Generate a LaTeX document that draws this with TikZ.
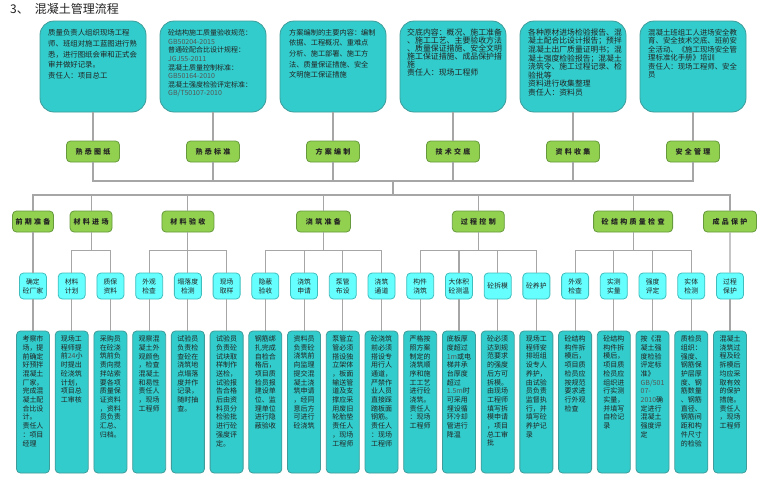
\documentclass[tikz,border=0pt]{standalone}
\usepackage{fontspec}
\setmainfont{Noto Sans CJK SC}
\usetikzlibrary{calc}
\definecolor{tealfill}{HTML}{33CCCC}
\definecolor{tealline}{HTML}{3E9C9A}
\definecolor{cyanfill}{HTML}{66FFFF}
\definecolor{cyanline}{HTML}{40BDBD}
\definecolor{grnfill}{HTML}{92D050}
\definecolor{grnline}{HTML}{669A3C}
\definecolor{conncol}{HTML}{A6A6A6}
\definecolor{txtcol}{HTML}{222222}
\definecolor{latcol}{HTML}{555555}
\newcommand\latx[1]{{\color{latcol}#1}}
\newcommand\gsp{\hspace{2.3pt}}
\newcommand\mkcol[4]{%
  \pgfmathsetmacro\colx{33+38.7222*#1}%
  \node[sbox] (s#2) at (\colx,286) {#3};
  \node[bbox] (b#2) at (\colx,402) {};
  \node[btext] (t#2) at (\colx,335.5) {#4};
  \draw[conn] (s#2) -- (b#2);
}
\begin{document}
\begin{tikzpicture}[x=1pt,y=-1pt,
  conn/.style={draw=conncol, line width=1.1pt},
  callout/.style={draw=tealline, fill=tealfill, rounded corners=14pt, line width=0.8pt,
    minimum width=106pt, minimum height=91pt, inner sep=0pt},
  ctext/.style={anchor=north west, align=left, inner sep=0pt, text=txtcol},
  gbox/.style={draw=grnline, fill=grnfill, rounded corners=4pt, line width=0.8pt,
    minimum height=21pt, inner sep=0pt, text=txtcol, font=\fontsize{7}{8}\selectfont\bfseries},
  sbox/.style={draw=cyanline, fill=cyanfill, rounded corners=4pt, line width=0.8pt,
    minimum width=27pt, minimum height=26pt, inner sep=0pt, align=center, text=txtcol,
    font=\fontsize{6.8}{9}\selectfont},
  bbox/.style={draw=tealline, fill=tealfill, rounded corners=4pt, line width=0.8pt,
    minimum width=33pt, minimum height=142pt, inner sep=0pt},
  btext/.style={anchor=north, align=left, inner sep=0pt, text=txtcol,
    font=\fontsize{7}{8.7}\selectfont}
]
\fill[white] (0,0) rectangle (760,477);
\useasboundingbox (0,0) rectangle (760,477);

\node[anchor=west, inner sep=0pt, text=txtcol, font=\fontsize{12}{14}\selectfont] (title) at (10,9) {3、\hspace{6pt}混凝土管理流程};

% top callouts
\node[callout] (c1) at (93,66.5) {};
\node[callout] (c2) at (213,66.5) {};
\node[callout] (c3) at (333,66.5) {};
\node[callout] (c4) at (453,66.5) {};
\node[callout] (c5) at (573,66.5) {};
\node[callout] (c6) at (693,66.5) {};

\node[ctext, font=\fontsize{7.4}{10.8}\selectfont] (ct1) at (48,29) {质量负责人组织现场工程\\师、班组对施工蓝图进行熟\\悉，进行图纸会审和正式会\\审并做好记录。\\责任人：项目总工};
\node[ctext, font=\fontsize{7}{8.6}\selectfont] (ct2) at (168,29.5) {砼结构施工质量验收规范：\\\latx{GB50204-2015}\\普通砼配合比设计规程：\\\latx{JGJ55-2011}\\混凝土质量控制标准：\\\latx{GB50164-2010}\\混凝土强度检验评定标准：\\\latx{GB/T50107-2010}};
\node[ctext, font=\fontsize{7.2}{10.6}\selectfont] (ct3) at (289,29) {方案编制的主要内容：编制\\依据、工程概况、重难点\\分析、施工部署、施工方\\法、质量保证措施、安全\\文明施工保证措施};
\node[ctext, font=\fontsize{7.9}{8}\selectfont] (ct4) at (407,28.5) {交底内容：概况、施工准备\\、施工工艺、主要验收方法\\、质量保证措施、安全文明\\施工保证措施、成品保护措\\施\\责任人：现场工程师};
\node[ctext, font=\fontsize{7.8}{8.6}\selectfont] (ct5) at (528,28.5) {各种原材进场检验报告、混\\凝土配合比设计报告；预拌\\混凝土出厂质量证明书；混\\凝土强度检验报告；混凝土\\浇筑令、施工过程记录、检\\验批等\\资料进行收集整理\\责任人：资料员};
\node[ctext, font=\fontsize{7.4}{8.5}\selectfont] (ct6) at (648,28.5) {混凝土班组工人进场安全教\\育、安全技术交底、班前安\\全活动、《施工现场安全管\\理标准化手册》培训\\责任人：现场工程师、安全\\员};

% first green row
\node[gbox, minimum width=53pt] (g1) at (93,151.5) {熟\gsp 悉\gsp 图\gsp 纸};
\node[gbox, minimum width=53pt] (g2) at (213,151.5) {熟\gsp 悉\gsp 标\gsp 准};
\node[gbox, minimum width=53pt] (g3) at (333,151.5) {方\gsp 案\gsp 编\gsp 制};
\node[gbox, minimum width=53pt] (g4) at (453,151.5) {技\gsp 术\gsp 交\gsp 底};
\node[gbox, minimum width=53pt] (g5) at (573,151.5) {资\gsp 料\gsp 收\gsp 集};
\node[gbox, minimum width=53pt] (g6) at (693,151.5) {安\gsp 全\gsp 管\gsp 理};

\foreach \k in {1,...,6} {\draw[conn] (c\k) -- (g\k);}

\coordinate (busA) at (393,181);
\coordinate (busB) at (393,195);
\foreach \k in {1,...,6} {\draw[conn] (g\k.south) |- (busA);}
\draw[conn] (busA) -- (busB);

% second green row
\node[gbox, minimum width=41pt] (r1) at (33,221.5) {前\gsp 期\gsp 准\gsp 备};
\node[gbox, minimum width=42pt] (r2) at (91.06,221.5) {材\gsp 料\gsp 进\gsp 场};
\node[gbox, minimum width=52pt] (r3) at (187.9,221.5) {材\gsp 料\gsp 验\gsp 收};
\node[gbox, minimum width=54pt] (r4) at (323.4,221.5) {浇\gsp 筑\gsp 准\gsp 备};
\node[gbox, minimum width=52pt] (r5) at (478.3,221.5) {过\gsp 程\gsp 控\gsp 制};
\node[gbox, minimum width=79pt] (r6) at (633.1,221.5) {砼\gsp 结\gsp 构\gsp 质\gsp 量\gsp 检\gsp 查};
\node[gbox, minimum width=53pt] (r7) at (730,221.5) {成\gsp 品\gsp 保\gsp 护};

\foreach \k in {1,...,7} {\draw[conn] (busB) -| (r\k.north);}

% columns
\mkcol{0}{1}{确定\\砼厂家}{考察市\\场，提\\前确定\\好预拌\\混凝土\\厂家，\\完成混\\凝土配\\合比设\\计。\\责任人\\：项目\\经理}
\mkcol{1}{2}{材料\\计划}{现场工\\程师提\\前\latx{24}小\\时提出\\砼浇筑\\计划，\\项目总\\工审核}
\mkcol{2}{3}{质保\\资料}{采购员\\在砼浇\\筑前负\\责向搅\\拌站索\\要各项\\质量保\\证资料\\，资料\\员负责\\汇总、\\归档。}
\mkcol{3}{4}{外观\\检查}{观察混\\凝土外\\观颜色\\，检查\\混凝土\\和易性\\责任人\\，现场\\工程师}
\mkcol{4}{5}{塌落度\\检测}{试验员\\负责检\\查砼在\\浇筑地\\点塌落\\度并作\\记录，\\随时抽\\查。}
\mkcol{5}{6}{现场\\取样}{试验员\\负责砼\\试块取\\样制作\\送检，\\试验报\\告合格\\后由资\\料员分\\检验批\\进行砼\\强度评\\定。}
\mkcol{6}{7}{隐蔽\\验收}{钢筋绑\\扎完成\\自检合\\格后，\\项目质\\检员报\\建设单\\位、监\\理单位\\进行隐\\蔽验收}
\mkcol{7}{8}{浇筑\\申请}{资料员\\负责砼\\浇筑前\\向监理\\提交混\\凝土浇\\筑申请\\，经同\\意后方\\可进行\\砼浇筑}
\mkcol{8}{9}{泵管\\布设}{泵管立\\管必须\\搭设独\\立架体\\，板面\\输送管\\道及支\\撑应采\\用废旧\\轮胎垫\\责任人\\，现场\\工程师}
\mkcol{9}{10}{浇筑\\通道}{砼浇筑\\前必须\\搭设专\\用行人\\通道，\\严禁作\\业人员\\直接踩\\踏板面\\钢筋。\\责任人\\：现场\\工程师}
\mkcol{10}{11}{构件\\浇筑}{严格按\\照方案\\制定的\\浇筑顺\\序和施\\工工艺\\进行砼\\浇筑。\\责任人\\：现场\\工程师}
\mkcol{11}{12}{大体积\\砼测温}{底板厚\\度超过\\\latx{1m}或电\\梯井承\\台厚度\\超过\\\latx{1.5m}时\\可采用\\埋设循\\环冷却\\管进行\\降温}
\mkcol{12}{13}{砼拆模}{砼必须\\达到规\\范要求\\的强度\\后方可\\拆模。\\由现场\\工程师\\填写拆\\模申请\\，项目\\总工审\\批}
\mkcol{13}{14}{砼养护}{现场工\\程师安\\排班组\\设专人\\养护，\\由试验\\员负责\\监督执\\行，并\\填写砼\\养护记\\录}
\mkcol{14}{15}{外观\\检查}{砼结构\\构件拆\\模后，\\项目质\\检员应\\按规范\\要求进\\行外观\\检查}
\mkcol{15}{16}{实测\\实量}{砼结构\\构件拆\\模后，\\项目质\\检员应\\组织进\\行实测\\实量，\\并填写\\自检记\\录}
\mkcol{16}{17}{强度\\评定}{按《混\\凝土强\\度检验\\评定标\\准》\\\latx{GB/501}\\\latx{07-}\\\latx{2010}确\\定进行\\混凝土\\强度评\\定}
\mkcol{17}{18}{实体\\检测}{质检员\\组织：\\强度、\\钢筋保\\护层厚\\度、钢\\筋数量\\、钢筋\\直径、\\钢筋间\\距和构\\件尺寸\\的检验}
\mkcol{18}{19}{过程\\保护}{混凝土\\浇筑过\\程及砼\\拆模后\\均应采\\取有效\\的保护\\措施。\\责任人\\，现场\\工程师}

% parent to children
\draw[conn] (r1) -- (s1);
\foreach \c in {2,3} {\draw[conn] (r2.south) |- ([yshift=22pt]s\c.north) -- (s\c.north);}
\foreach \c in {4,5,6} {\draw[conn] (r3.south) |- ([yshift=22pt]s\c.north) -- (s\c.north);}
\foreach \c in {7,8,9,10} {\draw[conn] (r4.south) |- ([yshift=22pt]s\c.north) -- (s\c.north);}
\foreach \c in {11,12,13,14} {\draw[conn] (r5.south) |- ([yshift=22pt]s\c.north) -- (s\c.north);}
\foreach \c in {15,16,17,18} {\draw[conn] (r6.south) |- ([yshift=22pt]s\c.north) -- (s\c.north);}
\draw[conn] (r7) -- (s19);
\end{tikzpicture}
\end{document}
